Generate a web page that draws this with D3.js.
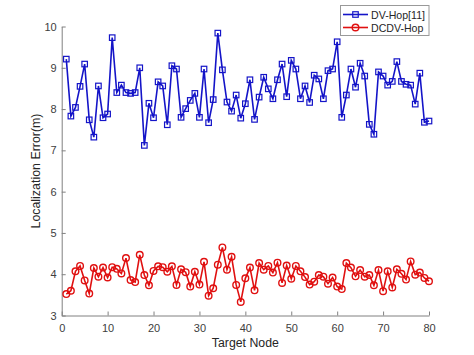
<!DOCTYPE html>
<html><head><meta charset="utf-8">
<script src="https://cdn.jsdelivr.net/npm/d3@7"></script>
<style>body{margin:0;background:#fff;}svg{display:block;font-family:"Liberation Sans",Arial,sans-serif;}</style>
</head><body>
<svg id="c" width="474" height="355"></svg>
<script>
const nodes = d3.range(1, 81);
const dvHop = [9.21,7.83,8.04,8.55,9.09,7.74,7.32,8.56,7.79,7.88,
9.73,8.40,8.58,8.40,8.38,8.40,9.00,7.12,8.14,7.79,
8.66,8.56,7.62,9.05,8.97,7.80,8.01,8.21,8.38,7.80,
8.97,7.67,8.23,9.84,8.95,8.17,7.95,8.34,7.78,8.13,
8.71,7.75,8.29,8.77,8.49,8.25,8.71,9.09,8.30,9.18,
8.97,8.25,8.56,8.16,8.82,8.73,8.25,8.93,8.97,9.63,
7.80,8.34,8.97,8.53,9.11,8.80,7.63,7.39,8.90,8.80,
8.58,8.67,9.15,8.67,8.60,8.58,8.12,8.87,7.68,7.71];
const dcdvHop = [3.52,3.60,4.07,4.20,3.85,3.53,4.15,3.94,4.16,3.92,
4.17,4.13,4.02,4.39,3.86,3.81,4.47,3.98,3.73,4.08,
4.19,4.17,4.06,4.19,3.74,4.12,4.05,3.70,4.06,3.75,
4.30,3.48,3.66,4.23,4.65,4.11,4.42,3.74,3.33,3.90,
4.16,3.61,4.27,4.11,4.20,4.04,4.28,3.79,4.21,3.89,
4.20,4.07,3.93,3.75,3.82,3.98,3.94,3.77,3.92,3.70,
3.64,4.27,4.16,3.95,4.10,3.94,3.98,3.73,4.10,3.59,
4.07,3.68,4.12,4.01,3.87,4.31,3.99,4.04,3.91,3.83];
const xTicks = [0,10,20,30,40,50,60,70,80];
const yTicks = [3,4,5,6,7,8,9,10];
const seriesNames = ["DV-Hop[11]","DCDV-Hop"];
const colors = ["#1414c8","#e01010"];

const svg = d3.select("#c");
const x = d3.scaleLinear().domain([0,80]).range([61.7,429]);
const y = d3.scaleLinear().domain([3,10]).range([315.5,26.5]);
const axisColor = "#808080", textColor = "#404040";

const gx = svg.append("g").attr("transform",`translate(0,${y(3)})`)
  .call(d3.axisBottom(x).tickValues(xTicks).tickFormat(d3.format("d")).tickSize(-4).tickPadding(7).tickSizeOuter(0));
const gy = svg.append("g").attr("transform",`translate(${x(0)},0)`)
  .call(d3.axisLeft(y).tickValues(yTicks).tickFormat(d3.format("d")).tickSize(-4).tickPadding(5).tickSizeOuter(0));
[gx,gy].forEach(g=>{
  g.select(".domain").attr("stroke",axisColor).attr("stroke-width",1);
  g.selectAll(".tick line").attr("stroke",axisColor);
  g.selectAll(".tick text").attr("fill",textColor).attr("font-size",11).attr("font-family","Liberation Sans, Arial, sans-serif");
});
gx.selectAll(".tick text").attr("dy","0.85em");

svg.append("text").attr("x",(x(0)+x(80))/2).attr("y",347).attr("text-anchor","middle")
  .attr("fill","#262626").attr("font-size",12.3).text("Target Node");
svg.append("text").attr("transform",`translate(40,${(y(3)+y(10))/2}) rotate(-90)`).attr("text-anchor","middle")
  .attr("fill","#262626").attr("font-size",12.4).text("Localization Error(m)");

const line = d3.line().x((d,i)=>x(nodes[i])).y(d=>y(d));
const data = [dvHop, dcdvHop];
data.forEach((vals,k)=>{
  svg.append("path").datum(vals).attr("d",line).attr("fill","none")
    .attr("stroke",colors[k]).attr("stroke-width",1.6);
  const g = svg.append("g");
  if(k===0){
    g.selectAll("rect").data(vals).join("rect")
      .attr("x",(d,i)=>x(nodes[i])-2.75).attr("y",d=>y(d)-2.75).attr("width",5.5).attr("height",5.5)
      .attr("fill","none").attr("stroke",colors[k]).attr("stroke-width",1.2);
  } else {
    g.selectAll("circle").data(vals).join("circle")
      .attr("cx",(d,i)=>x(nodes[i])).attr("cy",d=>y(d)).attr("r",3.3)
      .attr("fill","none").attr("stroke",colors[k]).attr("stroke-width",1.4);
  }
});

const lg = svg.append("g");
lg.append("rect").attr("x",340.5).attr("y",5.5).attr("width",88.5).attr("height",30)
  .attr("fill","#fff").attr("stroke","#999").attr("stroke-width",1);
seriesNames.forEach((n,k)=>{
  const yy = 14.5 + k*13;
  lg.append("line").attr("x1",343).attr("x2",368).attr("y1",yy).attr("y2",yy)
    .attr("stroke",colors[k]).attr("stroke-width",1.6);
  if(k===0) lg.append("rect").attr("x",352.75).attr("y",yy-2.75).attr("width",5.5).attr("height",5.5)
    .attr("fill","none").attr("stroke",colors[k]).attr("stroke-width",1.2);
  else lg.append("circle").attr("cx",355.5).attr("cy",yy).attr("r",3.3)
    .attr("fill","none").attr("stroke",colors[k]).attr("stroke-width",1.4);
  lg.append("text").attr("x",371).attr("y",yy+4).attr("font-size",10.6).attr("fill","#262626").text(n);
});
</script>
</body></html>
